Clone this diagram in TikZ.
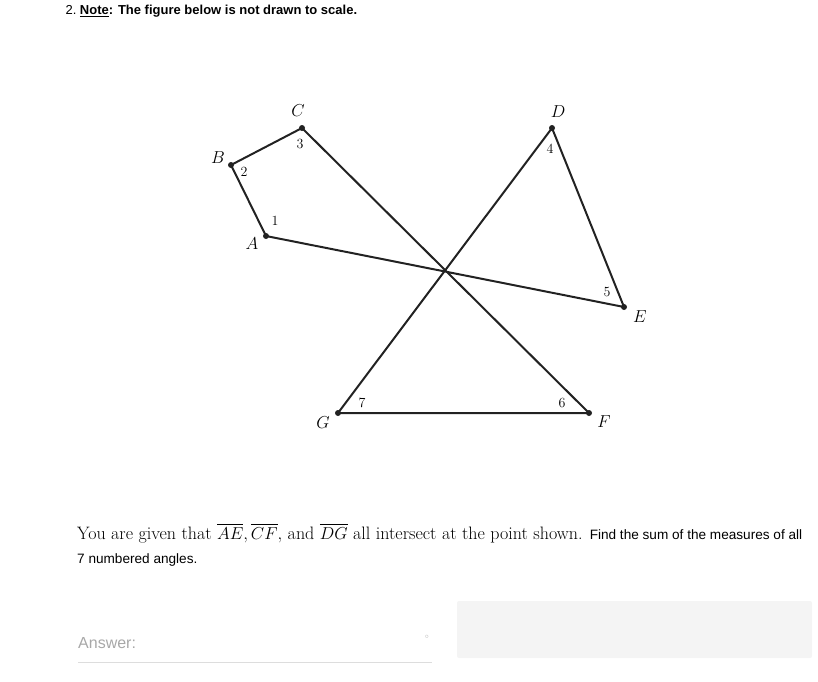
\documentclass[tikz,border=0pt]{standalone}
\usepackage{amsmath}
\usepackage{amssymb}
\usepackage{fontspec}
\setsansfont{Liberation Sans}
\usetikzlibrary{positioning, calc}
\definecolor{segcol}{HTML}{222222}
\definecolor{boxcol}{HTML}{F4F4F4}
\definecolor{faint}{HTML}{A8A8A8}
\definecolor{rulecol}{HTML}{DDDDDD}

\begin{document}
\begin{tikzpicture}[x=1pt, y=-1pt,
    dot/.style={circle, fill=segcol, inner sep=0pt, minimum size=6pt},
    vlabel/.style={font=\fontsize{16}{16}\selectfont},
    anglenum/.style={font=\fontsize{14}{14}\selectfont},
    seg/.style={draw=segcol, line width=2pt, line join=round}]
\useasboundingbox (0,0) rectangle (818,681);

% Heading
\node[anchor=west, font=\sffamily\fontsize{13}{14}\selectfont] (title) at (62,11)
    {2.\ \textbf{\underline{Note}: The figure below is not drawn to scale.}};

% Points
\foreach \n/\x/\y in {A/266/236, B/231/165, C/302/128, D/552/128, E/624/307, F/589/413, G/338/413} {
    \coordinate (\n) at (\x,\y);
}
\draw[seg] (C) -- (B) -- (A) -- (E) -- (D) -- (G) -- (F) -- cycle;
\foreach \n in {A,...,G} {
    \node[dot] (p\n) at (\n) {};
}

% Point labels
\foreach \n/\x/\y in {A/252/244, B/218/158, C/298/111, D/558/112, E/640/317, F/604/422, G/323/423} {
    \node[vlabel] (l\n) at (\x,\y) {$\n$};
}

% Angle numbers
\foreach \k/\x/\y in {1/275/221, 2/244/172, 3/300/144, 4/550/149, 5/607/292, 6/562/403, 7/362/403} {
    \node[anglenum] (a\k) at (\x,\y) {\k};
}

% Question text
\node[anchor=base west, inner sep=0pt] (q1) at (77,539)
    {\fontsize{18}{18}\selectfont You are given that $\overline{AE},\overline{CF},$ and $\overline{DG}$ all intersect at the point shown.
     \sffamily\fontsize{13.6}{14}\selectfont Find the sum of the measures of all};
\node[anchor=base west, inner sep=0pt, font=\sffamily\fontsize{13.6}{14}\selectfont] (q2) at (77,563)
    {7 numbered angles.};

% Answer field
\node[anchor=west, inner sep=0pt, text=faint, font=\sffamily\fontsize{16}{16}\selectfont] (ans) at (78,643) {Answer:};
\node[text=faint, inner sep=0pt, font=\fontsize{7}{7}\selectfont] (deg) at (427,637) {$\circ$};
\coordinate (ulL) at (78,662);
\coordinate (ulR) at (432,662);
\draw[rulecol, line width=1pt] (ulL) -- (ulR);
\fill[boxcol, rounded corners=2pt] (457,601) rectangle (812,658);
\end{tikzpicture}
\end{document}
